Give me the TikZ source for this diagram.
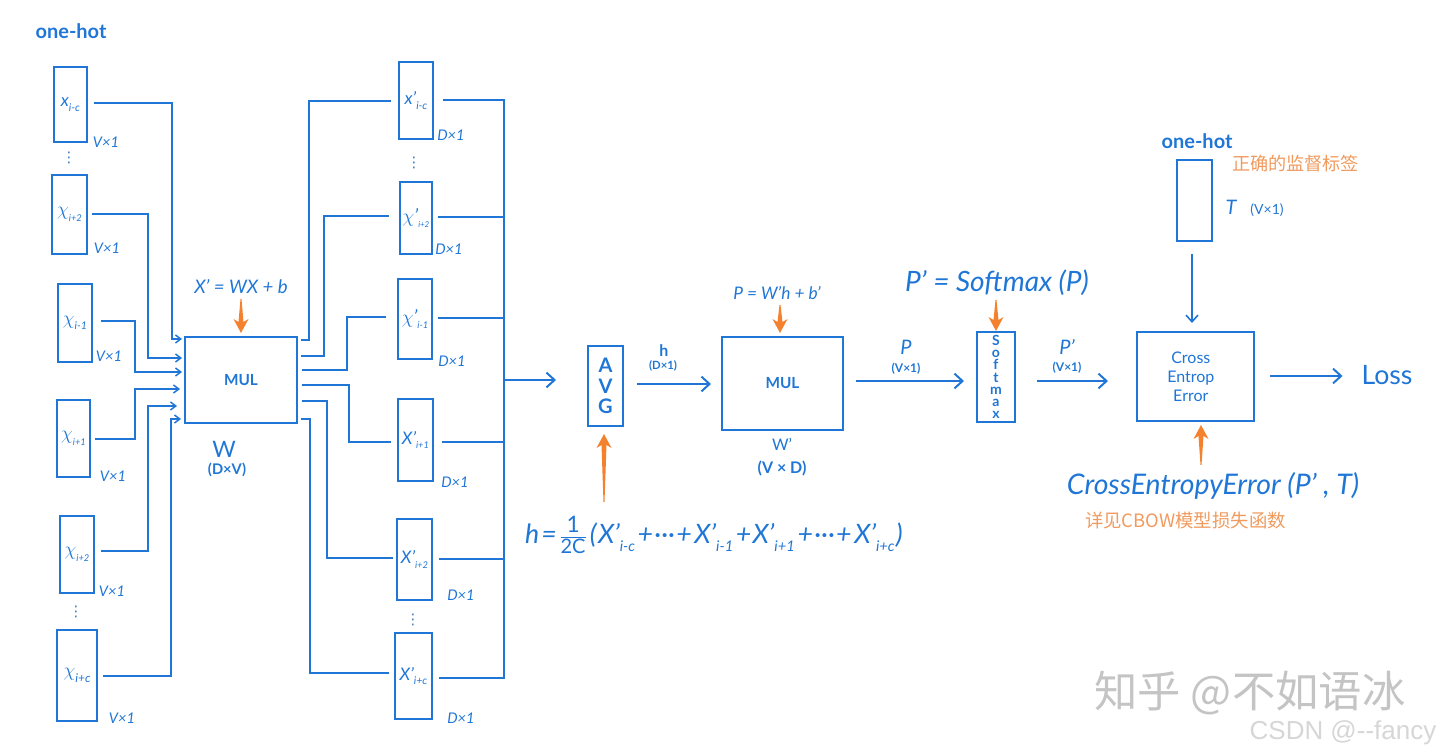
\documentclass[tikz,border=0pt]{standalone}
\usepackage{fontspec}
\setmainfont{Lato}
\newfontfamily\cjk{Noto Sans CJK SC}
\newfontfamily\arialf{Liberation Sans}
\newfontfamily\dejav{DejaVu Sans}
\usetikzlibrary{arrows.meta,calc}
\definecolor{bl}{HTML}{1F76D6}
\definecolor{orf}{HTML}{F4812E}
\definecolor{ort}{HTML}{F09A5E}
\definecolor{wm}{HTML}{C4C4C4}
\definecolor{wmb}{HTML}{D6D6D6}
\newcommand\fs[1]{\fontsize{#1}{#1}\selectfont}
\newcommand\fsb[2]{\fontsize{#1}{#2}\selectfont}
% variable with subscript, with prime (xv) or without (xn)
\newcommand\xv[3]{\mbox{#1'\raisebox{-.28em}{\fs{#3}#2}}}
\newcommand\xn[3]{\mbox{#1\raisebox{-.28em}{\fs{#3}#2}}}
\newcommand\pxbox[7][]{\node[boxs,#1,minimum width={(#5-#3)*0.75pt},minimum height={(#6-#4)*0.75pt}] (#2) at ({(#3+#5)/2},{(#4+#6)/2}) {#7};}
\newcommand\orarr[3]{\fill[orf] #1 -- ++(-7.5,{-14*#3}) -- ++(5,{3*#3}) -- ++(2,{-(#2-11)*#3}) -- ++(1,0) -- ++(2,{(#2-11)*#3}) -- ++(5,{-3*#3}) -- cycle;}
\tikzset{
 boxs/.style={draw=bl,line width=1.7pt,inner sep=0pt,outer sep=0pt,text=bl,align=center,font=\itshape\fs{13}},
 wire/.style={draw=bl,line width=1.5pt,line join=miter},
 wirein/.style={wire,-{Straight Barb[length=4pt,width=6pt,line width=1.1pt]}},
 wirear/.style={wire,-{Straight Barb[length=6pt,width=11pt,line width=1.5pt]}},
 lab/.style={inner sep=0pt,outer sep=0pt,text=bl,align=center,font=\itshape\fs{11}},
 dots/.style={inner sep=0pt,text=bl!70!gray,font=\dejav\fs{11}},
}
\begin{document}
\begin{tikzpicture}[x=0.75pt,y=-0.75pt]
\useasboundingbox (0,0) rectangle (1440,752);
% left column
\pxbox{xa}{54}{67}{87}{142}{\xn{x}{i-c}{8}}
\pxbox{xb}{52}{175}{87}{254}{\xn{\fs{15}$\chi$}{i+2}{7}}
\pxbox{xc}{58}{284}{92}{362}{\xn{\fs{15}$\chi$}{i-1}{8}}
\pxbox{xd}{57}{400}{90}{477}{\xn{\fs{15}$\chi$}{i+1}{7}}
\pxbox{xe}{60}{516}{94}{593}{\xn{\fs{15}$\chi$}{i+2}{7}}
\pxbox{xf}{57}{630}{97}{721}{\xn{\fs{15}$\chi$}{i+c}{9}}
\pxbox[font=\upshape\bfseries\fs{11.5}]{mul}{185}{337}{297}{423}{MUL}
% right column
\pxbox{ya}{399}{62}{433}{139}{\xv{x}{i-c}{8}}
\pxbox{yb}{400}{182}{432}{254}{\xv{\fs{14}$\chi$}{i+2}{6}}
\pxbox{yc}{398}{279}{432}{359}{\xv{\fs{14}$\chi$}{i-1}{7}}
\pxbox{yd}{398}{399}{433}{481}{\xv{X}{i+1}{7}}
\pxbox{ye}{397}{519}{432}{600}{\xv{X}{i+2}{7}}
\pxbox{yf}{395}{633}{432}{719}{\xv{X}{i+c}{8}}
\pxbox[font=\upshape\bfseries\fsb{15}{15.5}]{avg}{588}{346}{623}{426}{A\\V\\G}
\pxbox[font=\upshape\bfseries\fs{11.5}]{mulb}{722}{337}{843}{430}{MUL}
\pxbox[font=\upshape\bfseries\fsb{10.5}{9.2}]{smax}{977}{332}{1015}{422}{S\\o\\f\\t\\m\\a\\x}
\pxbox[font=\upshape\fsb{12}{14.2}]{cross}{1137}{332}{1254}{421}{\kern-7pt Cross\\\kern-7pt Entrop\\\kern-7pt Error}
\pxbox{tbox}{1177}{160}{1212}{241}{}
\node[lab,font=\upshape\fs{20}] (loss) at (1387,375) {Loss};
\node[lab,font=\bfseries\fs{15}] (onea) at (71,31) {one-hot};
\node[lab,font=\bfseries\fs{15}] (oneb) at (1197,141) {one-hot};
% connectors into MUL
\draw[wirein] ([shift={(7,-1.5)}]xa.east) -| ([shift={(-13,-41)}]mul.west) -- ([shift={(-3,-41)}]mul.west);
\draw[wirein] ([shift={(5,-.5)}]xb.east) -| ([shift={(-37,-22)}]mul.west) -- ([shift={(-3,-22)}]mul.west);
\draw[wirein] ([shift={(9,-2)}]xc.east) -| ([shift={(-50,-8)}]mul.west) -- ([shift={(-3,-8)}]mul.west);
\draw[wirein] ([shift={(5,.5)}]xd.east) -| ([shift={(-50,9)}]mul.west) -- ([shift={(-5,9)}]mul.west);
\draw[wirein] ([shift={(7,-3.5)}]xe.east) -| ([shift={(-37,26)}]mul.west) -- ([shift={(-8,26)}]mul.west);
\draw[wirein] ([shift={(6,.5)}]xf.east) -| ([shift={(-14,39)}]mul.west) -- ([shift={(-4,39)}]mul.west);
% connectors out of MUL
\draw[wire] ([shift={(4,-40)}]mul.east) -| ([shift={(-90,.5)}]ya.west) -- ([shift={(-8,.5)}]ya.west);
\draw[wire] ([shift={(4,-24)}]mul.east) -| ([shift={(-76,-2)}]yb.west) -- ([shift={(-11,-2)}]yb.west);
\draw[wire] ([shift={(5,-10)}]mul.east) -| ([shift={(-51,-2)}]yc.west) -- ([shift={(-12,-2)}]yc.west);
\draw[wire] ([shift={(5,5)}]mul.east) -| ([shift={(-49,2)}]yd.west) -- ([shift={(-7,2)}]yd.west);
\draw[wire] ([shift={(5,21)}]mul.east) -| ([shift={(-70,-1.5)}]ye.west) -- ([shift={(-4,-1.5)}]ye.west);
\draw[wire] ([shift={(4,39)}]mul.east) -| ([shift={(-85,-3)}]yf.west) -- ([shift={(-6,-3)}]yf.west);
% bus
\coordinate (bus) at (504,380);
\coordinate (bustop) at (504,100);
\coordinate (busbot) at (504,678);
\draw[wire,line cap=rect] (bustop) -- (busbot);
\draw[wire] ([shift={(10,-.5)}]ya.east) -- (bustop);
\draw[wire] ([shift={(6,-1)}]yb.east) -- ++(66,0);
\draw[wire] ([shift={(6,-1)}]yc.east) -- ++(66,0);
\draw[wire] ([shift={(9,2)}]yd.east) -- ++(62,0);
\draw[wire] ([shift={(7,-.5)}]ye.east) -- ++(65,0);
\draw[wire] ([shift={(7,2)}]yf.east) -- (busbot);
\draw[wirear] (bus) -- ([shift={(-32,-6)}]avg.west);
\draw[wirear] ([shift={(14,-2)}]avg.east) -- ([shift={(-11,.5)}]mulb.west);
\draw[wirear] ([shift={(13,-2.5)}]mulb.east) -- ([shift={(-13,4)}]smax.west);
\draw[wirear] ([shift={(22,4)}]smax.east) -- ([shift={(-29,4.5)}]cross.west);
\draw[wirear] ([shift={(16,-.5)}]cross.east) -- ([shift={(-19,1)}]loss.west);
\draw[wire,line width=1.2pt,-{Straight Barb[length=5pt,width=9pt,line width=1.2pt]}] ([shift={(-2.5,13)}]tbox.south) -- ([shift={(-3.5,-9)}]cross.north);
% orange arrows
\orarr{([shift={(0,-4)}]mul.north)}{34}{1}
\orarr{([shift={(-2.5,-4)}]mulb.north)}{28}{1}
\orarr{([shift={(0,-1)}]smax.north)}{31}{1}
\orarr{([shift={(-1.5,8)}]avg.south)}{68}{-1}
\orarr{([shift={(5.5,4)}]cross.south)}{40}{-1}
% size labels
\foreach \nm/\px/\py in {va/106/142,vb/107/248,vc/109/356,vd/113/476,ve/112/591,vf/122/718}
  \node[lab] (\nm) at (\px,\py) {V×1};
\foreach \nm/\px/\py in {da/451/135,db/449/249,dc/452/361,dd/455/482,de/461/595,df/461/718}
  \node[lab] (\nm) at (\px,\py) {D×1};
\node[dots] (ga) at (69,158) {⋮};
\node[dots] (gb) at (414,163) {⋮};
\node[dots] (gc) at (76,612) {⋮};
\node[dots] (gd) at (413,620) {⋮};
\node[lab,font=\itshape\fs{14}] (fa) at (241,287) {X' = WX + b};
\node[lab,font=\upshape\fs{17}] (wa) at (224,449) {W};
\node[lab,font=\upshape\bfseries\fs{11}] (wb) at (227,470) {(D×V)};
\node[lab,font=\itshape\fs{13}] (fb) at (777,293) {P = W'h + b'};
\node[lab,font=\upshape\fs{12}] (wc) at (782,444) {W'};
\node[lab,font=\upshape\bfseries\fs{12}] (wd) at (782,468) {(V × D)};
\node[lab,font=\upshape\bfseries\fs{12}] (ha) at (664,351) {h};
\node[lab,font=\upshape\bfseries\fs{8.5}] (hb) at (663,366) {(D×1)};
\node[lab,font=\itshape\fs{15}] (pa) at (906,347) {P};
\node[lab,font=\upshape\bfseries\fs{9}] (pb) at (906,369) {(V×1)};
\node[lab,font=\itshape\fs{15}] (pc) at (1067,347) {P'};
\node[lab,font=\upshape\bfseries\fs{9}] (pd) at (1067,368) {(V×1)};
\node[lab,font=\itshape\fs{21}] (fc) at (997,283) {P' = Softmax (P)};
\node[lab,font=\itshape\fs{15}] (ta) at (1231,207) {T};
\node[lab,font=\upshape\fs{10.5}] (tb) at (1267,210) {(V×1)};
\node[lab,font=\itshape\fs{21.3}] (fd) at (1213,486) {CrossEntropyError (P' , T)};
\node[lab,font=\itshape\fs{20}] (fe) at (714,535) {h\kern.08em=\kern.08em$\frac{\hbox{\upshape\fs{17}1}}{\hbox{\upshape\fs{15}2C}}$\kern.1em(\kern.05em\xv{X}{i-c}{11}\kern.1em+\kern.05em···\kern.05em+\kern.1em\xv{X}{i-1}{11}\kern.1em+\kern.05em\xv{X}{i+1}{11}\kern.1em+\kern.05em···\kern.05em+\kern.1em\xv{X}{i+c}{11}\kern.05em)};
% orange notes
\node[inner sep=0pt,text=ort,font=\cjk\fs{13.6}] (na) at (1295.5,164) {正确的监督标签};
\node[inner sep=0pt,text=ort,font=\cjk\fs{13.8}] (nb) at (1185.5,521) {详见CBOW模型损失函数};
% watermarks
\node[inner sep=0pt,text=wm,font=\cjk\fs{32.5}] (wma) at (1250,693) {知乎 @不如语冰};
\node[inner sep=0pt,text=wmb,font=\arialf\fs{19.5}] (wmc) at (1343,733) {CSDN @--fancy};
\end{tikzpicture}
\end{document}
